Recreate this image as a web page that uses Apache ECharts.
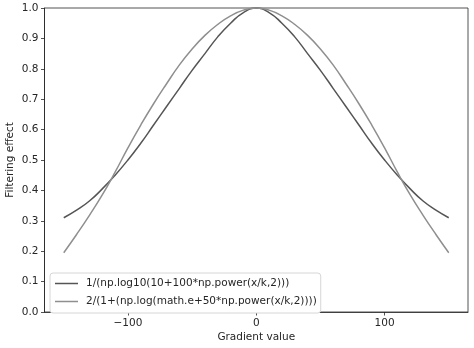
<!DOCTYPE html>
<html>
<head>
<meta charset="utf-8">
<script src="https://cdn.jsdelivr.net/npm/echarts@6/dist/echarts.min.js"></script>
<style>
html,body{margin:0;padding:0;background:#fff;}
#chart{width:474px;height:348px;}
</style>
</head>
<body>
<div id="chart"></div>
<script>
// Gradient values (x)
var xValues = [-150,-140,-130,-120,-110,-100,-90,-80,-70,-60,-50,-40,-30,-20,-10,0,10,20,30,40,50,60,70,80,90,100,110,120,130,140,150];
// 1/(np.log10(10+100*np.power(x/k,2)))
var seriesLog10 = [0.31,0.335,0.365,0.405,0.45,0.50,0.555,0.615,0.675,0.735,0.795,0.85,0.905,0.95,0.985,1.0,0.985,0.95,0.905,0.85,0.795,0.735,0.675,0.615,0.555,0.50,0.45,0.405,0.365,0.335,0.31];
// 2/(1+(np.log(math.e+50*np.power(x/k,2))))
var seriesLn = [0.195,0.255,0.318,0.385,0.46,0.54,0.615,0.685,0.75,0.812,0.865,0.91,0.946,0.974,0.993,1.0,0.993,0.974,0.946,0.91,0.865,0.812,0.75,0.685,0.615,0.54,0.46,0.385,0.318,0.255,0.195];
var xTicks = [-100,0,100];
var seriesNames = ['1/(np.log10(10+100*np.power(x/k,2)))','2/(1+(np.log(math.e+50*np.power(x/k,2))))'];

function pairs(ys){ return xValues.map(function(x,i){ return [x, ys[i]]; }); }

var font = 'DejaVu Sans';
var fs = 10.5;
var axisColor = '#262626';
var chart = echarts.init(document.getElementById('chart'), null, {renderer:'canvas'});
chart.setOption({
  animation:false,
  backgroundColor:'#fff',
  textStyle:{fontFamily:font},
  grid:{left:44.5,right:6,top:8,bottom:36,show:true,borderColor:axisColor,borderWidth:0.8,
        backgroundColor:'transparent',containLabel:false,outerBoundsMode:'none'},
  legend:{
    orient:'vertical', left:50, top:273,
    icon:'rect', itemWidth:23, itemHeight:1.5, itemGap:7,
    padding:[5,4,6,5],
    backgroundColor:'#fff', borderColor:'#d6d6d6', borderWidth:1, borderRadius:3,
    textStyle:{fontFamily:font,fontSize:fs,color:'#262626',padding:[0,0,0,3]},
    data:seriesNames
  },
  xAxis:{
    type:'value', min:-165, max:165,
    name:'Gradient value', nameLocation:'middle', nameGap:20, nameMoveOverlap:false,
    nameTextStyle:{fontFamily:font,fontSize:fs,color:'#262626'},
    splitLine:{show:false},
    axisLine:{show:true,onZero:false,lineStyle:{color:axisColor,width:0.8}},
    axisTick:{show:true,length:3.5,lineStyle:{color:axisColor,width:0.8},customValues:xTicks},
    axisLabel:{fontFamily:font,fontSize:fs,color:'#262626',margin:6,customValues:xTicks,
      formatter:function(v){ return v<0 ? '\u2212'+(-v) : String(v); }}
  },
  yAxis:{
    type:'value', min:0, max:1, interval:0.1,
    name:'Filtering effect', nameLocation:'middle', nameGap:29, nameRotate:90, nameMoveOverlap:false,
    nameTextStyle:{fontFamily:font,fontSize:fs,color:'#262626'},
    splitLine:{show:false},
    axisLine:{show:true,onZero:false,lineStyle:{color:axisColor,width:0.8}},
    axisTick:{show:true,length:3.5,lineStyle:{color:axisColor,width:0.8}},
    axisLabel:{fontFamily:font,fontSize:fs,color:'#262626',margin:6,
      formatter:function(v){ return v.toFixed(1); }}
  },
  series:[
    {name:seriesNames[0], type:'line', data:pairs(seriesLog10), smooth:0.5, symbol:'none',
     lineStyle:{color:'#555555',width:1.5}, itemStyle:{color:'#555555'}},
    {name:seriesNames[1], type:'line', data:pairs(seriesLn), smooth:0.5, symbol:'none',
     lineStyle:{color:'#8f8f8f',width:1.5}, itemStyle:{color:'#8f8f8f'}}
  ]
});
</script>
</body>
</html>
